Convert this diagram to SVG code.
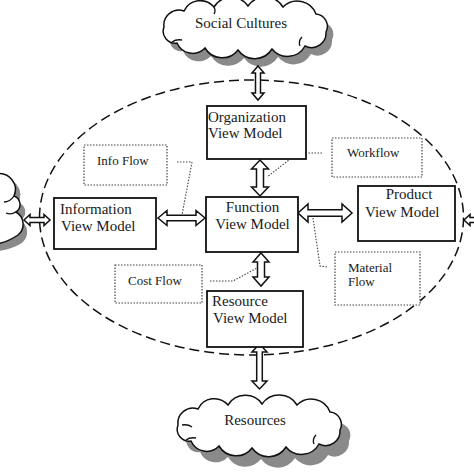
<svg xmlns="http://www.w3.org/2000/svg" width="474" height="474" viewBox="0 0 474 474">
<style>
  .box{fill:#fff;stroke:#111;stroke-width:1.8}
  .note{fill:#fff;stroke:#444;stroke-width:1.2;stroke-dasharray:1.5 1.5}
  .lead{fill:none;stroke:#444;stroke-width:1.1;stroke-dasharray:1.5 1.5}
  .arr{fill:#fff;stroke:#111;stroke-width:1.5;stroke-linejoin:miter}
  .cloud{fill:#fff;stroke:#111;stroke-width:1.5}
  .shadow{fill:#8a8a8a;stroke:none}
  .curl{fill:none;stroke:#111;stroke-width:1.3}
  text{font-family:"Liberation Serif","Times New Roman",serif;fill:#1a1a1a;font-size:15px}
  .sm{font-size:13px}
</style>
<defs>
  <path id="cloudShape" d="M316,14 A12.4,12.4 0 0 1 326,32 A14.5,14.5 0 0 1 305,46 A19.9,19.9 0 0 1 272,49 A20.4,20.4 0 0 1 238,50 A19.9,19.9 0 0 1 205,48 A17,17 0 0 1 177,43 A11.9,11.9 0 0 1 164,27 A15,15 0 0 1 184,11 A18,18 0 0 1 214,7 A20.4,20.4 0 0 1 248,6 A21,21 0 0 1 283,7 A20.1,20.1 0 0 1 316,14 Z"/>
</defs>
<rect width="474" height="474" fill="#fff"/>

<ellipse id="boundary" cx="251.5" cy="217.5" rx="212" ry="137.5" fill="none" stroke="#111" stroke-width="1.5" stroke-dasharray="10 5"/>

<g id="social-cultures">
  <use href="#cloudShape" class="shadow" transform="translate(6,8)"/>
  <use href="#cloudShape" class="cloud"/>
  <path class="curl" d="M172,42 q4,-3 10,-2 M300,46 q-2,-5 2,-9 M214,7 q2,4 0,7"/>
  <text x="195" y="28">Social Cultures</text>
</g>

<g id="resources">
  <use href="#cloudShape" class="shadow" transform="translate(23,409)"/>
  <use href="#cloudShape" class="cloud" transform="translate(14,398)"/>
  <path class="curl" d="M186,440 q4,-3 10,-2 M314,444 q-2,-5 2,-9 M182,425 q6,-1 10,2"/>
  <text x="255" y="425" text-anchor="middle">Resources</text>
</g>

<g id="left-cloud">
  <path class="shadow" d="M-30,180 L-2,180 A16,16 0 0 1 18,203 A9,9 0 0 1 20,220 A14,14 0 0 1 22,243 Q10,250 -2,251 L-30,251 Z"/>
  <path class="cloud" d="M-30,174 L-4,174 A16,16 0 0 1 14,196 A9,9 0 0 1 16,212 A14,14 0 0 1 18,235 Q8,242 -4,244 L-30,244 Z"/>
  <path class="curl" d="M14,196 q-4,6 -10,6 M16,212 q-5,3 -10,1"/>
</g>

<g id="connectors">
  <polygon class="arr" points="258,66 264,73 260.5,73 260.5,93 264,93 258,100 252,93 255.5,93 255.5,73 252,73"/>
  <polygon class="arr" points="260,160 268.5,169 263.5,169 263.5,187 268.5,187 260,196 251.5,187 256.5,187 256.5,169 251.5,169"/>
  <polygon class="arr" points="261,253 269,262 264.5,262 264.5,277 269,277 261,286 253,277 257.5,277 257.5,262 253,262"/>
  <polygon class="arr" points="259.5,344 267,352 262.3,352 262.3,381 267,381 259.5,389 252,381 256.7,381 256.7,352 252,352"/>
  <polygon class="arr" points="158,218 167,210.5 167,215.2 196,215.2 196,210.5 205,218 196,225.5 196,220.8 167,220.8 167,225.5"/>
  <polygon class="arr" points="298,213 308,204 308,209.7 342,209.7 342,204 352,213 342,222 342,216.3 308,216.3 308,222"/>
  <polygon class="arr" points="24,220 30,214.5 30,217.5 44,217.5 44,214.5 50,220 44,225.5 44,222.5 30,222.5 30,225.5"/>
  <polygon class="arr" points="464,220 470,214.5 470,217.5 482,217.5 482,222.5 470,222.5 470,225.5"/>
  <path class="lead" d="M177,162 L192,162 L182,215"/>
  <path class="lead" d="M322,153 L298,153 L267,177"/>
  <path class="lead" d="M313,218 L320,266 L327,267"/>
  <path class="lead" d="M210,281 L233,281 L257,268"/>
</g>

<g id="organization">
  <rect class="box" x="207" y="106" width="99" height="53"/>
  <text x="208" y="122">Organization</text>
  <text x="208" y="138">View Model</text>
</g>
<g id="function">
  <rect class="box" x="206" y="197" width="92" height="55"/>
  <text x="252.5" y="212" text-anchor="middle">Function</text>
  <text x="252.5" y="229" text-anchor="middle">View Model</text>
</g>
<g id="information">
  <rect class="box" x="54" y="198" width="102" height="51"/>
  <text x="60" y="214">Information</text>
  <text x="61" y="231">View Model</text>
</g>
<g id="product">
  <rect class="box" x="358" y="186" width="97" height="55"/>
  <text x="409" y="199" text-anchor="middle">Product</text>
  <text x="365" y="217">View Model</text>
</g>
<g id="resource">
  <rect class="box" x="207" y="291" width="96" height="56"/>
  <text x="212" y="306">Resource</text>
  <text x="213" y="323">View Model</text>
</g>

<g id="info-flow">
  <rect class="note" x="84" y="145" width="83" height="40"/>
  <text class="sm" x="97" y="165">Info Flow</text>
</g>
<g id="workflow">
  <rect class="note" x="332" y="138" width="90" height="39"/>
  <text class="sm" x="347" y="157">Workflow</text>
</g>
<g id="material-flow">
  <rect class="note" x="335" y="252" width="85" height="53"/>
  <text class="sm" x="348" y="272">Material</text>
  <text class="sm" x="348" y="286">Flow</text>
</g>
<g id="cost-flow">
  <rect class="note" x="115" y="265" width="87" height="38"/>
  <text class="sm" x="128" y="285">Cost Flow</text>
</g>
</svg>
